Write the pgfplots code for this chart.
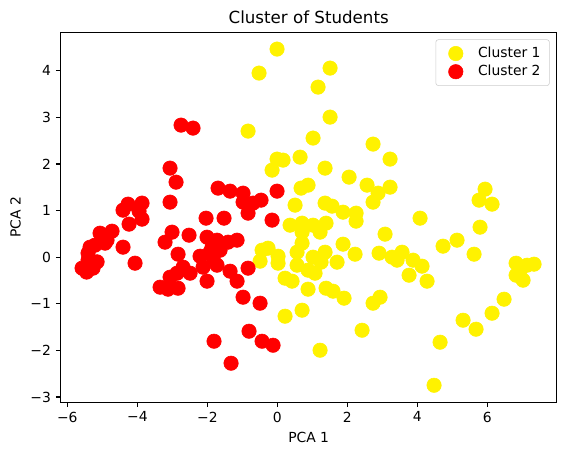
\documentclass[border=0pt]{standalone}
\usepackage{fontspec}
\setmainfont{DejaVu Sans}
\usepackage{pgfplots}
\pgfplotsset{compat=1.18}
\begin{document}
\begin{tikzpicture}
\begin{axis}[
  name=ax,
  scale only axis,
  width=357.1pt, height=266.2pt,
  xmin=-6.19, xmax=7.98, ymin=-3.11, ymax=4.825,
  xtick={-6,-4,-2,0,2,4,6},
  xticklabels={−6,−4,−2,0,2,4,6},
  ytick={-3,-2,-1,0,1,2,3,4},
  yticklabels={−3,−2,−1,0,1,2,3,4},
  tick pos=left, tick align=outside,
  major tick length=3.5pt,
  every tick/.style={black, line width=0.8pt},
  axis line style={line width=0.8pt},
  ticklabel style={font=\fontsize{10}{12}\selectfont},
  xlabel={PCA 1}, ylabel={PCA 2},
  label style={font=\fontsize{10}{12}\selectfont},
  title={Cluster of Students},
  title style={font=\fontsize{12}{14.4}\selectfont, yshift=-3pt},
  legend style={at={(1,1)}, anchor=north east, xshift=-5pt, yshift=-5pt,
    draw=black!20, rounded corners=2pt, font=\fontsize{10}{12}\selectfont,
    inner xsep=4.4pt, inner ysep=3.5pt, row sep=0pt, cells={anchor=west}},
  legend image code/.code={\path[draw=none,fill=none] (0pt,-5pt) rectangle (24pt,5pt);
    \draw[mark repeat=2,mark phase=2,#1] plot coordinates {(0pt,0pt)(10pt,0pt)(20pt,0pt)};},
]
\addplot[only marks, mark=*, mark size=5.2pt, draw=yellow, fill=yellow] coordinates {
(-0.009,4.466) (-0.523,3.951) (1.506,4.058) (1.163,3.650) (1.506,3.006)
(-0.837,2.706) (1.020,2.556) (2.734,2.427) (3.220,2.105) (-0.009,2.105)
(0.163,2.083) (0.649,2.147) (-0.151,1.868) (1.363,1.911) (2.049,1.718)
(2.563,1.546) (3.220,1.503) (2.877,1.374) (2.734,1.181) (0.677,1.482)
(0.877,1.546) (0.506,1.117) (1.363,1.160) (1.563,1.095) (1.877,0.966)
(2.249,0.945) (2.249,0.773) (4.077,0.837) (0.363,0.687) (0.706,0.730)
(1.020,0.687) (1.391,0.730) (1.220,0.537) (0.706,0.537) (3.077,0.494)
(-0.437,0.150) (-0.266,0.193) (-0.494,-0.086) (0.020,0.021) (0.020,-0.129)
(0.706,0.301) (0.563,0.107) (1.877,0.279) (1.363,0.107) (2.220,0.064)
(2.906,0.086) (3.277,0.000) (3.563,0.107) (3.420,-0.064) (3.877,-0.064)
(4.134,-0.193) (0.563,-0.172) (1.020,0.000) (0.877,-0.279) (1.077,-0.344)
(1.249,-0.107) (1.706,-0.107) (0.220,-0.451) (0.420,-0.515) (0.877,-0.687)
(1.391,-0.666) (1.591,-0.730) (1.906,-0.880) (2.734,-0.988) (2.934,-0.859)
(3.763,-0.387) (4.277,-0.515) (0.220,-1.267) (0.706,-1.138) (2.420,-1.568)
(1.220,-1.997) (4.649,-1.825) (4.477,-2.749) (5.306,-1.353) (5.677,-1.546)
(6.134,-1.203) (6.477,-0.902) (5.934,1.460) (5.763,1.224) (6.134,1.138)
(5.791,0.644) (4.734,0.236) (5.134,0.365) (5.620,0.064) (6.820,-0.129)
(7.134,-0.172) (7.334,-0.150) (6.820,-0.387) (7.020,-0.494) (6.934,-0.279)
};
\addlegendentry{Cluster 1}
\addplot[only marks, mark=*, mark size=5.2pt, draw=red, fill=red] coordinates {
(-2.751,2.834) (-2.409,2.770) (-3.066,1.911) (-2.894,1.610) (-1.694,1.482)
(-1.351,1.417) (-0.980,1.374) (-0.980,1.181) (-0.694,1.160) (-0.466,1.224)
(-0.837,0.945) (-0.009,1.417) (-0.151,0.795) (-3.066,1.181) (-4.266,1.138)
(-3.866,1.160) (-4.409,1.009) (-3.951,0.988) (-3.866,0.816) (-4.237,0.709)
(-2.037,0.837) (-1.523,0.837) (-5.066,0.515) (-4.723,0.558) (-4.866,0.365)
(-5.209,0.258) (-4.409,0.215) (-3.009,0.537) (-3.209,0.322) (-2.523,0.472)
(-2.009,0.429) (-1.723,0.365) (-1.409,0.322) (-1.151,0.365) (-1.866,0.215)
(-2.837,0.064) (-2.209,0.021) (-1.637,0.150) (-1.837,-0.021) (-2.123,-0.215)
(-1.723,-0.172) (-2.694,-0.215) (-2.494,-0.344) (-2.866,-0.344) (-3.066,-0.429)
(-3.351,-0.644) (-3.123,-0.687) (-2.837,-0.666) (-2.009,-0.515) (-1.351,-0.301)
(-1.151,-0.515) (-0.837,-0.236) (-0.980,-0.859) (-0.494,-0.988) (-0.809,-1.589)
(-0.437,-1.804) (-0.123,-1.890) (-1.809,-1.804) (-1.323,-2.276) (-4.066,-0.129)
(-5.580,-0.236) (-5.266,-0.236) (-5.409,-0.064) (-5.409,0.086) (-5.351,0.215)
(-4.923,0.301) (-1.923,0.107) (-5.450,-0.320) (-5.150,-0.100)
};
\addlegendentry{Cluster 2}
\end{axis}
\pgfresetboundingbox
\path ([xshift=-43.7pt,yshift=-38.2pt]ax.south west) rectangle ([xshift=6pt,yshift=23.3pt]ax.north east);
\end{tikzpicture}
\end{document}
